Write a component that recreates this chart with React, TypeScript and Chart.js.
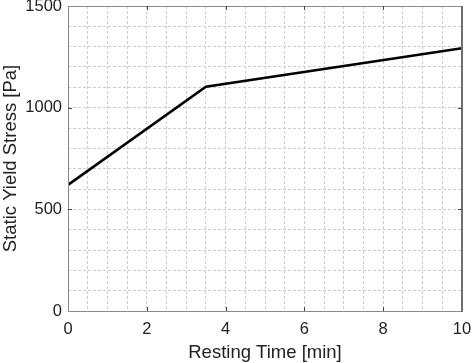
import React, { useEffect, useRef } from "react";
import { Chart, registerables } from "chart.js";

Chart.register(...registerables);

const restingTime = [0, 3.5, 10];
const yieldStress = [620, 1103, 1292];
const xTickLabels = [0, 2, 4, 6, 8, 10];
const yTickLabels = [0, 500, 1000, 1500];

const frame = {
  id: "frame",
  afterDatasetsDraw(chart: any) {
    const { ctx, chartArea: a, scales } = chart;
    ctx.save();
    ctx.strokeStyle = "#8a8a8a";
    ctx.lineWidth = 1;
    ctx.beginPath();
    ctx.moveTo(a.left + 0.5, a.top + 0.5);
    ctx.lineTo(a.right, a.top + 0.5);
    ctx.moveTo(a.left + 0.5, a.top);
    ctx.lineTo(a.left + 0.5, a.bottom + 0.5);
    ctx.lineTo(a.right, a.bottom + 0.5);
    ctx.stroke();
    ctx.strokeStyle = "#707070";
    ctx.lineWidth = 2;
    ctx.beginPath();
    ctx.moveTo(a.right, a.top);
    ctx.lineTo(a.right, a.bottom + 1);
    ctx.stroke();
    ctx.strokeStyle = "#444";
    ctx.lineWidth = 1;
    ctx.beginPath();
    const L = 4;
    xTickLabels.slice(1, -1).forEach((v) => {
      const px = Math.round(scales.x.getPixelForValue(v)) + 0.5;
      ctx.moveTo(px, a.bottom);
      ctx.lineTo(px, a.bottom - L);
      ctx.moveTo(px, a.top);
      ctx.lineTo(px, a.top + L);
    });
    yTickLabels.slice(1, -1).forEach((v) => {
      const py = Math.round(scales.y.getPixelForValue(v)) + 0.5;
      ctx.moveTo(a.left, py);
      ctx.lineTo(a.left + L, py);
      ctx.moveTo(a.right, py);
      ctx.lineTo(a.right - L, py);
    });
    ctx.stroke();
    ctx.restore();
  },
};

export default function App() {
  const ref = useRef<HTMLCanvasElement>(null);
  useEffect(() => {
    document.body.style.margin = "0";
    const tickFont = { family: "Liberation Sans, Arial, sans-serif", size: 16.5 };
    const titleFont = { family: "Liberation Sans, Arial, sans-serif", size: 18.5, lineHeight: 1.1 };
    const gridStyle = {
      color: "#cdcdcd",
      lineWidth: 1,
      drawTicks: false,
    };
    const chart = new Chart(ref.current!, {
      type: "scatter",
      data: {
        datasets: [
          {
            data: restingTime.map((x, i) => ({ x, y: yieldStress[i] })),
            showLine: true,
            borderColor: "#000",
            borderWidth: 2.6,
            pointRadius: 0,
            tension: 0,
          },
        ],
      },
      plugins: [frame],
      options: {
        animation: false,
        responsive: false,
        layout: { padding: { top: 6, right: 12, left: 0, bottom: 0 } },
        plugins: { legend: { display: false }, tooltip: { enabled: false } },
        scales: {
          x: {
            type: "linear",
            min: 0,
            max: 10,
            border: { display: false, dash: [3, 2] },
            grid: gridStyle,
            ticks: {
              stepSize: 0.5,
              autoSkip: false,
              maxRotation: 0,
              padding: 9,
              color: "#222",
              font: tickFont,
              callback: (v: any) => (xTickLabels.includes(Number(v)) ? String(v) : ""),
            },
            title: {
              display: true,
              text: "Resting Time [min]",
              color: "#222",
              font: titleFont,
              padding: { top: 0, bottom: 0 },
            },
            afterFit: (s: any) => {
              s.height = 52;
              s.paddingLeft = 0;
              s.paddingRight = 0;
            },
          } as any,
          y: {
            type: "linear",
            min: 0,
            max: 1500,
            border: { display: false, dash: [3, 2] },
            grid: gridStyle,
            ticks: {
              stepSize: 100,
              autoSkip: false,
              padding: 6,
              color: "#222",
              font: tickFont,
              callback: (v: any) => (yTickLabels.includes(Number(v)) ? String(v) : ""),
            },
            title: {
              display: true,
              text: "Static Yield Stress [Pa]",
              color: "#222",
              font: titleFont,
              padding: { top: 1, bottom: 0 },
            },
            afterFit: (s: any) => {
              s.width = 68;
              s.paddingTop = 0;
              s.paddingBottom = 0;
            },
          } as any,
        },
      },
    });
    return () => chart.destroy();
  }, []);
  return (
    <div style={{ width: 474, height: 363 }}>
      <canvas ref={ref} width={474} height={363} />
    </div>
  );
}
